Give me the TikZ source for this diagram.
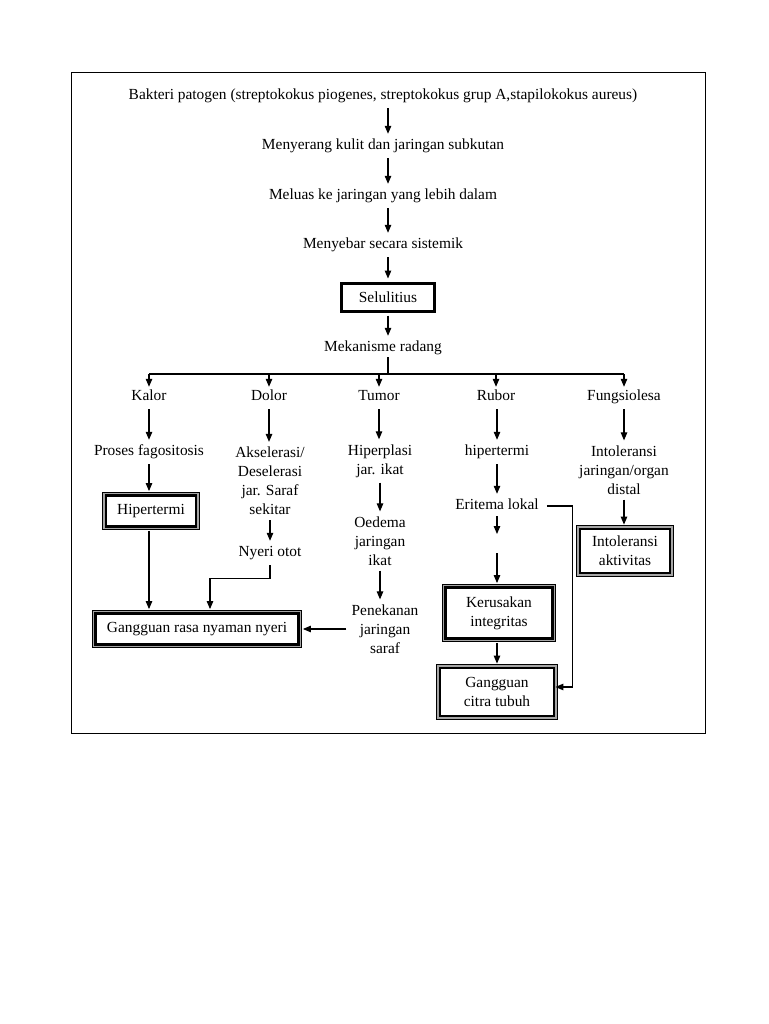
\documentclass[tikz,border=0pt]{standalone}
\usepackage{fontspec}
\setmainfont{Liberation Serif}
\usepackage{tikz}
\usetikzlibrary{arrows, arrows.meta}
\usetikzlibrary{positioning}
\tikzstyle{label} = [align=center, inner sep=2pt]
\tikzstyle{word} = [inner sep=2pt, text height=10.5pt, text depth=3.5pt]
\tikzstyle{arrow} = [line width=1.1pt, -{Triangle[length=8pt,width=6.5pt]}, shorten <=3pt, shorten >=3pt]

\begin{document}
\begin{tikzpicture}[x=1pt, y=-1pt,
font=\fontsize{15.4}{19}\selectfont,
dblbox/.style={rectangle, align=center, fill=white, draw=black, line width=2.8pt, preaction={draw=black, line width=7.4pt}, preaction={draw=black!35, line width=5.4pt}},
thickbox/.style={rectangle, align=center, draw=black, line width=3pt},
]
\useasboundingbox (0,0) rectangle (768,1024);
\draw[line width=1pt] (71,73) rectangle (705,733);

%Nodes
\node[word]       (bakteri)    at (383,96)  {Bakteri patogen (streptokokus piogenes, streptokokus grup A,stapilokokus aureus)};
\node[word]       (menyerang)  at (383,146) {Menyerang kulit dan jaringan subkutan};
\node[word]       (meluas)     at (383,196) {Meluas ke jaringan yang lebih dalam};
\node[word]       (menyebar)   at (383,245) {Menyebar secara sistemik};
\node[thickbox, minimum width=93pt, minimum height=28pt] (selulitis) at (388,297) {Selulitius};
\node[word]       (mekanisme)  at (383,348) {Mekanisme radang};
\coordinate       (split)      at (388,374);

\node[word]       (kalor)      at (149,397) {Kalor};
\node[word]       (dolor)      at (269,397) {Dolor};
\node[word]       (tumor)      at (379,397) {Tumor};
\node[word]       (rubor)      at (496,397) {Rubor};
\node[word]       (fungsi)     at (624,397) {Fungsiolesa};

\node[word]       (proses)     at (149,452) {Proses fagositosis};
\node[label]      (aksel)      at (270,481) {Akselerasi/\\Deselerasi\\jar. Saraf\\sekitar};
\node[label]      (hiperplasi) at (380,461) {Hiperplasi\\jar. ikat};
\node[word]       (hipertermi) at (497,452) {hipertermi};
\node[label]      (intol)      at (624,470) {Intoleransi\\jaringan/organ\\distal};

\node[dblbox, minimum width=90pt, minimum height=31pt] (hipbox) at (151,511) {Hipertermi};
\node[word]       (nyeri)      at (270,553) {Nyeri otot};
\node[label]      (oedema)     at (380,541) {Oedema\\jaringan\\ikat};
\node[word]       (eritema)    at (497,506) {Eritema lokal};
\node[dblbox, minimum width=90pt, minimum height=44pt] (aktivitas) at (625,551) {Intoleransi\\aktivitas};

\node[dblbox, minimum width=203pt, minimum height=31pt] (gangguan) at (197,629) {Gangguan rasa nyaman nyeri};
\node[label]      (penekanan)  at (385,629) {Penekanan\\jaringan\\saraf};
\node[dblbox, minimum width=107pt, minimum height=51pt] (kerusakan) at (499,613) {Kerusakan\\integritas};
\node[dblbox, minimum width=114pt, minimum height=48pt] (citra) at (497,692) {Gangguan\\citra tubuh};

\coordinate (gapa) at (497,534);
\coordinate (gapb) at (497,553);

%Lines
\draw[arrow] (bakteri.south -| selulitis) -- (menyerang.north -| selulitis);
\draw[arrow] (menyerang.south -| selulitis) -- (meluas.north -| selulitis);
\draw[arrow] (meluas.south -| selulitis) -- (menyebar.north -| selulitis);
\draw[arrow] (menyebar.south -| selulitis) -- (selulitis.north);
\draw[arrow] (selulitis.south) -- (mekanisme.north -| selulitis);
\draw[line width=1.1pt] (mekanisme.south -| split) -- (split);
\draw[line width=1.1pt] (split -| kalor) -- (split -| fungsi);
\foreach \n in {kalor,dolor,tumor,rubor,fungsi}
  \draw[arrow, shorten <=0pt, shorten >=1pt] (split -| \n) -- (\n.north);

\draw[arrow] (kalor.south) -- (proses.north -| kalor);
\draw[arrow] (proses.south -| kalor) -- (hipbox.north -| kalor);
\draw[arrow] (hipbox.south -| kalor) -- (gangguan.north -| kalor);

\draw[arrow] (dolor.south) -- (aksel.north -| dolor);
\draw[arrow] (aksel.south) -- (nyeri.north);
\draw[arrow] (nyeri.south) -- ++(0,16) -| ([xshift=13pt]gangguan.north);

\draw[arrow] (tumor.south) -- (hiperplasi.north -| tumor);
\draw[arrow] (hiperplasi.south) -- (oedema.north);
\draw[arrow] (oedema.south) -- (oedema.south |- penekanan.north);
\draw[arrow] (penekanan.west) -- (gangguan.east);

\draw[arrow] (rubor.south -| hipertermi) -- (hipertermi.north);
\draw[arrow] (hipertermi.south) -- (eritema.north);
\draw[arrow, shorten <=1pt, shorten >=0pt] (eritema.south) -- (gapa);
\draw[arrow, shorten <=0pt] (gapb) -- (gapb |- kerusakan.north);
\draw[arrow] (kerusakan.south -| citra) -- (citra.north);
\draw[arrow, shorten <=6pt, shorten >=0pt] (eritema.east) -- ++(32,0) |- ([yshift=5pt]citra.east);

\draw[arrow] (fungsi.south) -- (intol.north);
\draw[arrow] (intol.south) -- (aktivitas.north -| intol);

\end{tikzpicture}
\end{document}
